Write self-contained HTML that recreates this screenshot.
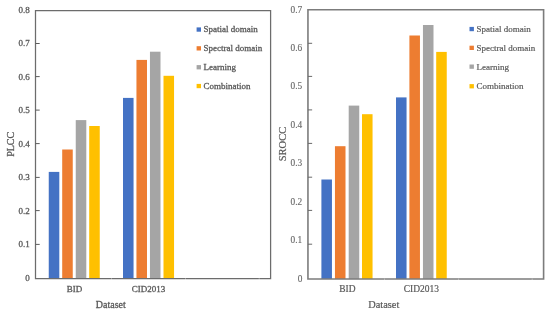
<!DOCTYPE html>
<html><head><meta charset="utf-8"><style>
html,body{margin:0;padding:0;background:#fff;width:550px;height:315px;overflow:hidden}
svg{display:block;will-change:transform;font-family:"Liberation Serif",serif}
text{stroke:currentColor;stroke-width:0.3px}
.c2 text{stroke-width:0.2px}
.c2 text.yl{stroke-width:0.12px}
</style></head><body>
<svg width="550" height="315" viewBox="0 0 550 315">
<rect width="550" height="315" fill="#fff"/>
<g class="c1">
<rect x="48.75" y="171.90" width="10.55" height="106.60" fill="#4472C4"/>
<rect x="62.20" y="149.50" width="10.55" height="129.00" fill="#ED7D31"/>
<rect x="75.75" y="120.10" width="10.55" height="158.40" fill="#A5A5A5"/>
<rect x="89.20" y="126.00" width="10.55" height="152.50" fill="#FFC000"/>
<rect x="123.00" y="97.90" width="10.55" height="180.60" fill="#4472C4"/>
<rect x="136.45" y="59.90" width="10.55" height="218.60" fill="#ED7D31"/>
<rect x="149.95" y="51.70" width="10.55" height="226.80" fill="#A5A5A5"/>
<rect x="163.50" y="75.80" width="10.55" height="202.70" fill="#FFC000"/>
<path d="M35.5 278.5 V10.5 H270.6 V278.5 Z" fill="none" stroke="#6c6c6c" stroke-width="1.25"/>
<path d="M35.5 43.5 H39.7" stroke="#5c5c5c" stroke-width="1"/>
<path d="M35.5 76.6 H39.7" stroke="#5c5c5c" stroke-width="1"/>
<path d="M35.5 110.1 H39.7" stroke="#5c5c5c" stroke-width="1"/>
<path d="M35.5 143.6 H39.7" stroke="#5c5c5c" stroke-width="1"/>
<path d="M35.5 177.4 H39.7" stroke="#5c5c5c" stroke-width="1"/>
<path d="M35.5 210.6 H39.7" stroke="#5c5c5c" stroke-width="1"/>
<path d="M35.5 244.4 H39.7" stroke="#5c5c5c" stroke-width="1"/>
<text class="yl" x="29.7" y="12.95" text-anchor="end" font-size="9" fill="#5a5a5a" color="#5a5a5a">0.8</text>
<text class="yl" x="29.7" y="46.40" text-anchor="end" font-size="9" fill="#5a5a5a" color="#5a5a5a">0.7</text>
<text class="yl" x="29.7" y="79.85" text-anchor="end" font-size="9" fill="#5a5a5a" color="#5a5a5a">0.6</text>
<text class="yl" x="29.7" y="113.30" text-anchor="end" font-size="9" fill="#5a5a5a" color="#5a5a5a">0.5</text>
<text class="yl" x="29.7" y="146.75" text-anchor="end" font-size="9" fill="#5a5a5a" color="#5a5a5a">0.4</text>
<text class="yl" x="29.7" y="180.20" text-anchor="end" font-size="9" fill="#5a5a5a" color="#5a5a5a">0.3</text>
<text class="yl" x="29.7" y="213.65" text-anchor="end" font-size="9" fill="#5a5a5a" color="#5a5a5a">0.2</text>
<text class="yl" x="29.7" y="247.10" text-anchor="end" font-size="9" fill="#5a5a5a" color="#5a5a5a">0.1</text>
<text class="yl" x="29.7" y="280.55" text-anchor="end" font-size="9" fill="#5a5a5a" color="#5a5a5a">0</text>
<path d="M111.4 278.0 v2" stroke="#ffffff" stroke-width="0.7" opacity="0.5"/>
<path d="M185.6 278.0 v2" stroke="#ffffff" stroke-width="0.7" opacity="0.5"/>
<path d="M259.2 278.0 v2" stroke="#ffffff" stroke-width="0.7" opacity="0.5"/>
<text x="74.4" y="291.9" text-anchor="middle" font-size="9" fill="#595959" color="#595959">BID</text>
<text x="148.4" y="291.9" text-anchor="middle" font-size="9" fill="#595959" color="#595959">CID2013</text>
<text x="110.8" y="307.6" text-anchor="middle" font-size="10" fill="#595959" color="#595959">Dataset</text>
<text transform="translate(13.9 144.3) rotate(-90)" text-anchor="middle" font-size="10" fill="#595959" color="#595959">PLCC</text>
<rect x="196.6" y="27.4" width="4.4" height="4.3" fill="#4472C4"/>
<text x="203.6" y="31.80" font-size="9" fill="#595959" color="#595959">Spatial domain</text>
<rect x="196.6" y="46.2" width="4.4" height="4.3" fill="#ED7D31"/>
<text x="203.6" y="50.85" font-size="9" fill="#595959" color="#595959">Spectral domain</text>
<rect x="196.6" y="65.1" width="4.4" height="4.3" fill="#A5A5A5"/>
<text x="203.6" y="69.90" font-size="9" fill="#595959" color="#595959">Learning</text>
<rect x="196.6" y="83.9" width="4.4" height="4.3" fill="#FFC000"/>
<text x="203.6" y="88.95" font-size="9" fill="#595959" color="#595959">Combination</text>
</g>
<g class="c2">
<rect x="321.40" y="179.50" width="10.55" height="99.50" fill="#4472C4"/>
<rect x="334.95" y="146.20" width="10.55" height="132.80" fill="#ED7D31"/>
<rect x="348.70" y="105.60" width="10.55" height="173.40" fill="#A5A5A5"/>
<rect x="362.00" y="114.20" width="10.55" height="164.80" fill="#FFC000"/>
<rect x="396.00" y="97.40" width="10.55" height="181.60" fill="#4472C4"/>
<rect x="409.40" y="35.50" width="10.55" height="243.50" fill="#ED7D31"/>
<rect x="422.95" y="25.00" width="10.55" height="254.00" fill="#A5A5A5"/>
<rect x="436.20" y="51.90" width="10.55" height="227.10" fill="#FFC000"/>
<path d="M307.95 279.0 V9.8 H543.6 V279.0 Z" fill="none" stroke="#7c7c7c" stroke-width="1.6"/>
<path d="M307.95 43.3 H312.15" stroke="#6a6a6a" stroke-width="1"/>
<path d="M307.95 76.39999999999999 H312.15" stroke="#6a6a6a" stroke-width="1"/>
<path d="M307.95 109.89999999999999 H312.15" stroke="#6a6a6a" stroke-width="1"/>
<path d="M307.95 143.4 H312.15" stroke="#6a6a6a" stroke-width="1"/>
<path d="M307.95 177.20000000000002 H312.15" stroke="#6a6a6a" stroke-width="1"/>
<path d="M307.95 210.4 H312.15" stroke="#6a6a6a" stroke-width="1"/>
<path d="M307.95 244.20000000000002 H312.15" stroke="#6a6a6a" stroke-width="1"/>
<text class="yl" x="302.3" y="12.50" text-anchor="end" font-size="9.35" fill="#6a6a6a" color="#6a6a6a">0.7</text>
<text class="yl" x="302.3" y="50.96" text-anchor="end" font-size="9.35" fill="#6a6a6a" color="#6a6a6a">0.6</text>
<text class="yl" x="302.3" y="89.41" text-anchor="end" font-size="9.35" fill="#6a6a6a" color="#6a6a6a">0.5</text>
<text class="yl" x="302.3" y="127.87" text-anchor="end" font-size="9.35" fill="#6a6a6a" color="#6a6a6a">0.4</text>
<text class="yl" x="302.3" y="166.33" text-anchor="end" font-size="9.35" fill="#6a6a6a" color="#6a6a6a">0.3</text>
<text class="yl" x="302.3" y="204.79" text-anchor="end" font-size="9.35" fill="#6a6a6a" color="#6a6a6a">0.2</text>
<text class="yl" x="302.3" y="243.24" text-anchor="end" font-size="9.35" fill="#6a6a6a" color="#6a6a6a">0.1</text>
<text class="yl" x="302.3" y="281.70" text-anchor="end" font-size="9.35" fill="#6a6a6a" color="#6a6a6a">0</text>
<path d="M384.4 278.5 v2" stroke="#ffffff" stroke-width="0.7" opacity="0.5"/>
<path d="M458.6 278.5 v2" stroke="#ffffff" stroke-width="0.7" opacity="0.5"/>
<path d="M532.2 278.5 v2" stroke="#ffffff" stroke-width="0.7" opacity="0.5"/>
<text x="347.4" y="292.3" text-anchor="middle" font-size="9.45" fill="#595959" color="#595959">BID</text>
<text x="421.4" y="292.3" text-anchor="middle" font-size="9.45" fill="#595959" color="#595959">CID2013</text>
<text x="383.8" y="308.3" text-anchor="middle" font-size="10.35" fill="#595959" color="#595959">Dataset</text>
<text transform="translate(286.3 144.0) rotate(-90)" text-anchor="middle" font-size="10.5" fill="#595959" color="#595959">SROCC</text>
<rect x="469.5" y="26.9" width="4.4" height="4.3" fill="#4472C4"/>
<text x="476.5" y="31.80" font-size="9" fill="#595959" color="#595959">Spatial domain</text>
<rect x="469.5" y="45.7" width="4.4" height="4.3" fill="#ED7D31"/>
<text x="476.5" y="50.85" font-size="9" fill="#595959" color="#595959">Spectral domain</text>
<rect x="469.5" y="64.5" width="4.4" height="4.3" fill="#A5A5A5"/>
<text x="476.5" y="69.90" font-size="9" fill="#595959" color="#595959">Learning</text>
<rect x="469.5" y="84.1" width="4.4" height="4.3" fill="#FFC000"/>
<text x="476.5" y="88.95" font-size="9" fill="#595959" color="#595959">Combination</text>
</g>
</svg>
</body></html>
